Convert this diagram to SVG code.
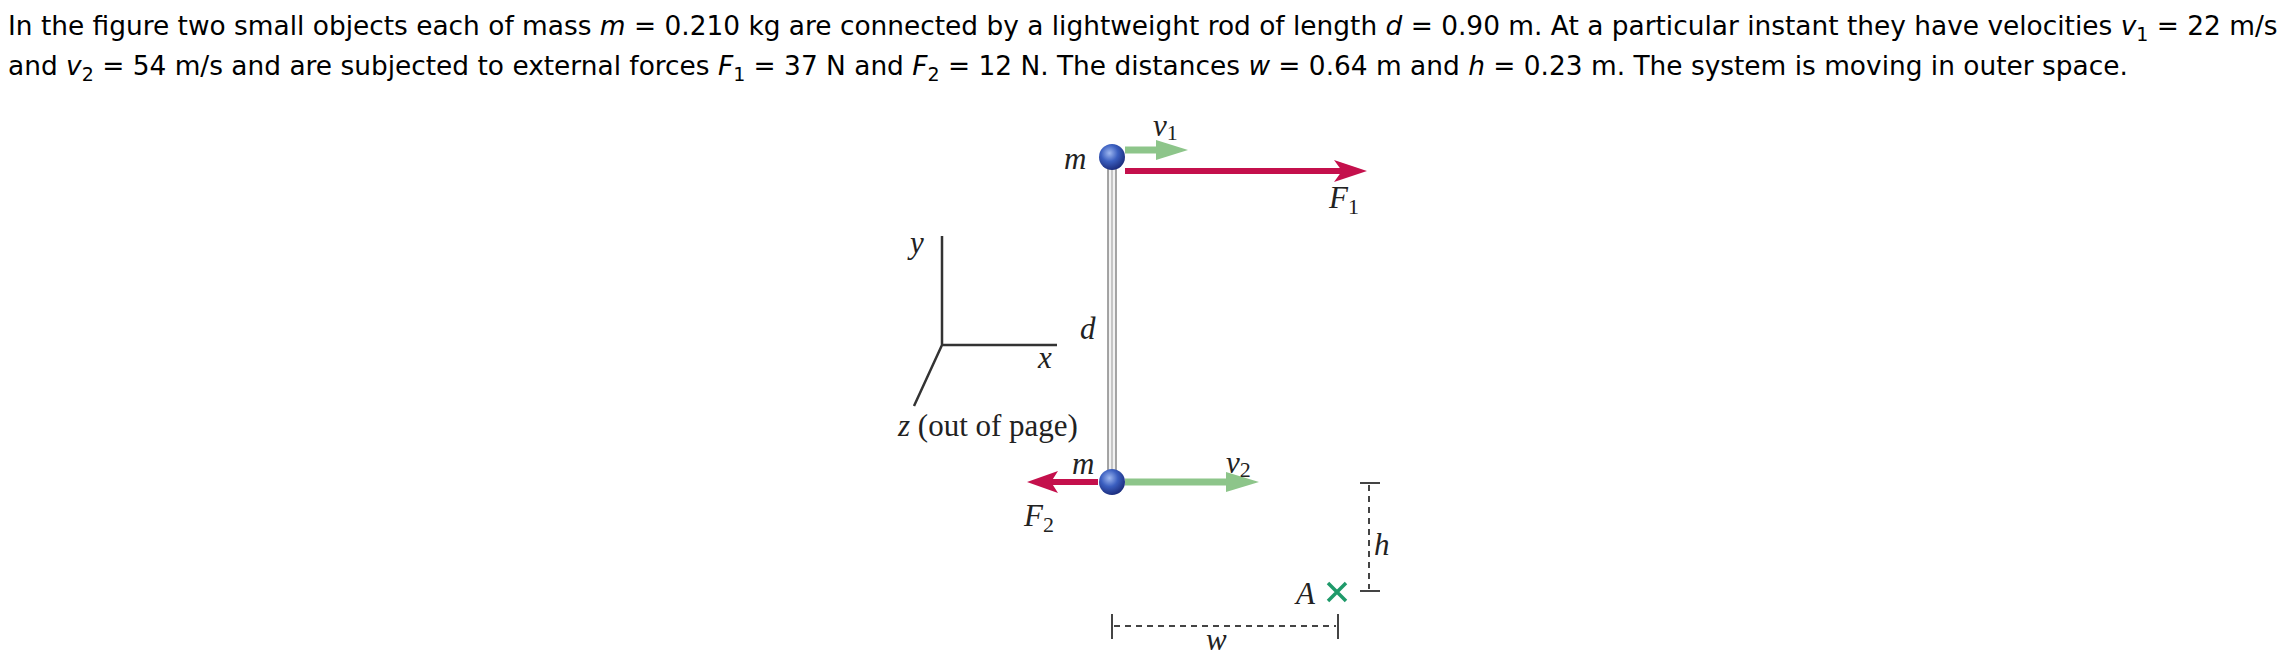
<svg xmlns="http://www.w3.org/2000/svg" width="2292" height="668" viewBox="0 0 2292 668">
<style>
.hd{font-family:"DejaVu Sans",Verdana,sans-serif;font-size:26.4px;fill:#000}
.lb{font-family:"Liberation Serif","Times New Roman",serif;font-style:italic;font-size:31px;fill:#222}
.rm{font-family:"Liberation Serif","Times New Roman",serif;font-size:31px;fill:#222}
.ax{stroke:#333;stroke-width:2.5;fill:none}
.dash{stroke:#444;stroke-width:2;stroke-dasharray:6 5;fill:none}
.tick{stroke:#444;stroke-width:2;fill:none}
</style>
<defs>
<radialGradient id="ball" cx="0.4" cy="0.35" r="0.65">
<stop offset="0" stop-color="#9fb8f0"/><stop offset="0.5" stop-color="#3b5fc0"/><stop offset="1" stop-color="#1d2f80"/>
</radialGradient>
</defs>
<text class="hd" x="8" y="35">In the figure two small objects each of mass <tspan font-style="italic">m</tspan> = 0.210 kg are connected by a lightweight rod of length <tspan font-style="italic">d</tspan> = 0.90 m. At a particular instant they have velocities <tspan font-style="italic">v</tspan><tspan font-size="19" dy="6">1</tspan><tspan dy="-6"> = 22 m/s</tspan></text>
<text class="hd" x="8" y="75">and <tspan font-style="italic">v</tspan><tspan font-size="19" dy="6">2</tspan><tspan dy="-6"> = 54 m/s and are subjected to external forces </tspan><tspan font-style="italic">F</tspan><tspan font-size="19" dy="6">1</tspan><tspan dy="-6"> = 37 N and </tspan><tspan font-style="italic">F</tspan><tspan font-size="19" dy="6">2</tspan><tspan dy="-6"> = 12 N. The distances </tspan><tspan font-style="italic">w</tspan> = 0.64 m and <tspan font-style="italic">h</tspan> = 0.23 m. The system is moving in outer space.</text>
<g transform="translate(-2,9)">
<g id="axes">
<path class="ax" d="M944 227V336H1059M944 336L916 397"/>
<text class="lb" x="912" y="244">y</text>
<text class="lb" x="1040" y="359">x</text>
<text class="rm" x="900" y="427"><tspan font-style="italic">z</tspan> (out of page)</text>
</g>
<g id="connectors">
<g id="rod"><rect x="1110" y="155" width="8" height="318" fill="#f2f2f2" stroke="#888" stroke-width="1.5"/><line x1="1114" y1="155" x2="1114" y2="473" stroke="#999" stroke-width="1"/></g>
<g id="v1"><path d="M1127 141H1160" stroke="#8dc58a" stroke-width="7"/><path d="M1158 131L1190 141L1158 151Z" fill="#8dc58a"/></g>
<g id="F1"><path d="M1127 162H1345" stroke="#c4104c" stroke-width="6"/><path d="M1336 151L1369 162L1336 173L1344 162Z" fill="#c4104c"/></g>
<g id="v2"><path d="M1127 473H1230" stroke="#8dc58a" stroke-width="7"/><path d="M1228 463L1261 473L1228 483Z" fill="#8dc58a"/></g>
<g id="F2"><path d="M1100 473H1050" stroke="#c4104c" stroke-width="6"/><path d="M1060 462L1029 473L1060 484L1053 473Z" fill="#c4104c"/></g>
<g id="hdim"><path class="dash" d="M1371 476V580"/><path class="tick" d="M1362 474H1382M1362 582H1382"/></g>
<g id="wdim"><path class="dash" d="M1116 617H1338"/><path class="tick" d="M1114 605V630M1340 605V630"/></g>
</g>
<g id="mass1"><circle cx="1114" cy="148" r="13" fill="url(#ball)"/><text class="lb" x="1066" y="160">m</text></g>
<g id="mass2"><circle cx="1114" cy="473" r="13" fill="url(#ball)"/><text class="lb" x="1074" y="465">m</text></g>
<g id="labels">
<text class="lb" x="1155" y="127">v<tspan font-size="22" font-style="normal" dy="4">1</tspan></text>
<text class="lb" x="1331" y="199">F<tspan font-size="22" font-style="normal" dy="6">1</tspan></text>
<text class="lb" x="1082" y="330">d</text>
<text class="lb" x="1228" y="464">v<tspan font-size="22" font-style="normal" dy="4">2</tspan></text>
<text class="lb" x="1026" y="517">F<tspan font-size="22" font-style="normal" dy="6">2</tspan></text>
<text class="lb" x="1376" y="546">h</text>
<text class="lb" x="1208" y="641">w</text>
</g>
<g id="pointA"><text class="lb" x="1298" y="595">A</text><path d="M1330 574L1348 592M1348 574L1330 592" stroke="#1f9a6a" stroke-width="3.5"/></g>
</g>
</svg>
